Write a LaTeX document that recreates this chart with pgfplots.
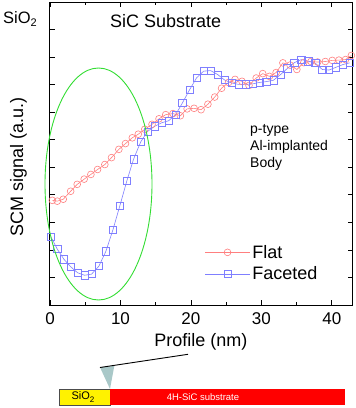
\documentclass[border=0pt]{standalone}
\usepackage{pgfplots}
\pgfplotsset{compat=1.18}
\usepackage{fontspec}
\setmainfont{Liberation Sans}
\definecolor{flatred}{HTML}{FF7F7F}
\definecolor{facetblue}{HTML}{7F7FFF}
\definecolor{ellgreen}{HTML}{33DD33}
\definecolor{tipgray}{HTML}{A9C8C8}
\begin{document}
\begin{tikzpicture}
\useasboundingbox (-50pt,-103pt) rectangle (306pt,305pt);
\begin{axis}[
  scale only axis, width=303pt, height=303pt,
  xmin=0, xmax=43, ymin=0, ymax=11,
  xtick={0,10,20,30,40}, minor xtick={5,15,25,35},
  ytick={1,2,3,4,5,6,7,8,9,10}, yticklabels={},
  tick align=inside, major tick length=5pt, minor tick length=3pt,
  tick style={black, line width=0.8pt},
  axis line style={line width=1pt},
  /pgf/number format/assume math mode=true,
  ticklabel style={font=\fontsize{17}{20}\selectfont},
  xticklabel style={yshift=-4pt},
  xlabel={Profile (nm)}, ylabel={SCM signal (a.u.)},
  label style={font=\fontsize{18}{21}\selectfont},
  xlabel style={at={(axis description cs:0.498,-0.121)}, anchor=center},
  ylabel style={at={(axis description cs:-0.104,0.455)}, anchor=center},
  clip=false,
  legend style={draw=none, fill=none, at={(rel axis cs:0.51,0.205)}, anchor=north west,
    font=\fontsize{18}{21}\selectfont, row sep=3pt, inner sep=0pt},
  legend cell align=left,
  legend image code/.code={\draw[mark repeat=2,mark phase=2] plot coordinates {(0pt,0pt) (22.5pt,0pt) (45pt,0pt)};},
]
\addplot[flatred, line width=0.6pt, mark=o, mark size=3.4pt, mark options={solid, line width=0.6pt}] coordinates {
(0.33,3.80)(1.03,3.77)(1.88,3.84)(2.93,4.13)(3.86,4.38)(4.85,4.57)(5.80,4.74)(6.75,4.92)
(7.78,5.10)(8.73,5.35)(9.77,5.65)(10.71,5.86)(11.68,6.07)(12.53,6.20)(13.45,6.38)(14.48,6.56)
(15.47,6.76)(16.42,6.91)(17.45,6.95)(18.50,6.87)(19.46,7.12)(20.45,7.14)(21.44,7.09)(22.41,7.29)
(23.38,7.55)(24.35,7.87)(25.34,8.08)(26.26,8.19)(27.25,8.12)(28.24,7.97)(29.26,8.24)(30.19,8.40)
(31.14,8.30)(32.09,8.44)(33.05,8.79)(34.07,8.71)(35.03,8.55)(36.02,8.80)(37.04,8.84)(37.98,8.82)
(39.07,8.84)(40.06,8.88)(41.00,8.89)(41.94,8.91)(42.77,9.06)};
\addlegendentry{Flat}
\addplot[facetblue, line width=0.6pt, mark=square, mark size=3.6pt, mark options={solid, line width=0.6pt}] coordinates {
(0.14,2.47)(1.03,2.03)(1.98,1.66)(2.93,1.39)(3.92,1.17)(4.91,1.08)(5.90,1.12)(6.94,1.41)
(7.93,1.95)(8.92,2.72)(9.91,3.60)(10.90,4.50)(11.85,5.29)(12.87,5.92)(13.83,6.30)(14.86,6.49)
(15.90,6.62)(16.84,6.69)(17.83,6.91)(18.78,7.33)(19.82,7.82)(20.81,8.25)(21.80,8.49)(22.79,8.51)
(23.78,8.37)(24.77,8.17)(25.76,8.06)(26.75,8.01)(27.74,8.01)(28.78,8.03)(29.72,8.08)(30.71,8.11)
(31.71,8.16)(32.70,8.36)(33.69,8.59)(34.68,8.80)(35.67,8.91)(36.66,8.85)(37.65,8.78)(38.64,8.55)
(39.59,8.53)(40.58,8.63)(41.57,8.73)(42.51,8.79)};
\addlegendentry{Faceted}
\end{axis}
\begin{scope}[x=1pt,y=1pt,shift={(-50pt,-103pt)}]
\draw[ellgreen, line width=0.9pt] (98.5,224) ellipse [x radius=53.5, y radius=116];
\node[anchor=base west, font=\fontsize{18}{21}\selectfont, inner sep=0pt] at (110,381) {SiC Substrate};
\node[anchor=base west, font=\fontsize{16.5}{20}\selectfont, inner sep=0pt] at (3,385) {SiO\raisebox{-0.45ex}{\fontsize{11}{13}\selectfont 2}};
\node[anchor=base west, font=\fontsize{14}{17}\selectfont, inner sep=0pt, align=left] at (250,241) {p-type\\Al-implanted\\Body};
\fill[yellow] (59.3,3) rectangle (110,18.7);
\draw[black!70, line width=0.5pt] (59.3,3) rectangle (110,18.7);
\fill[red] (110,3) rectangle (345,18.7);
\fill[tipgray] (100,40.7) -- (114.3,42) -- (110,19) -- cycle;
\draw[black, line width=0.9pt] (100,40.5) -- (188,53.7);
\node[font=\fontsize{11}{13}\selectfont, inner sep=0pt] at (83,11) {SiO\raisebox{-0.4ex}{\fontsize{8}{9}\selectfont 2}};
\node[font=\fontsize{9.5}{11}\selectfont, text=white, inner sep=0pt] at (203,10.5) {4H-SiC substrate};
\end{scope}
\end{tikzpicture}
\end{document}
